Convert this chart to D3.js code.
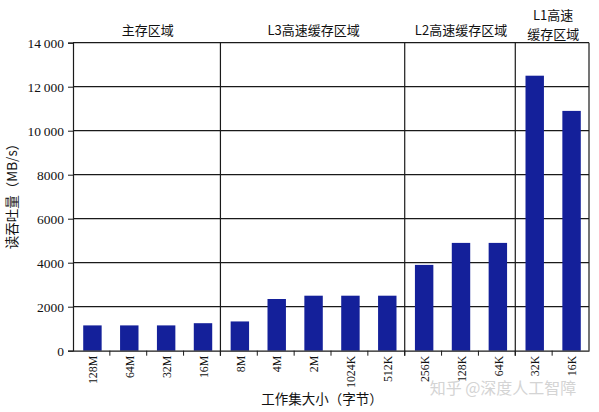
<!DOCTYPE html>
<html><head><meta charset="utf-8">
<script src="https://cdn.jsdelivr.net/npm/d3@7"></script>
<style>
html,body{margin:0;padding:0;background:#fff;}
svg{display:block;}
</style></head>
<body><svg id="c" width="599" height="412"></svg>
<script>
const categories = ["128M","64M","32M","16M","8M","4M","2M","1024K","512K","256K","128K","64K","32K","16K"];
const throughput = [1150,1150,1150,1250,1330,2350,2500,2500,2500,3900,4900,4900,12500,10900];
const yTicks = [0,2000,4000,6000,8000,10000,12000,14000];
const regions = [
  {name:["主存区域"], from:0, to:3},
  {name:["L3高速缓存区域"], from:4, to:8},
  {name:["L2高速缓存区域"], from:9, to:11},
  {name:["L1高速","缓存区域"], from:12, to:13}
];
const yTitle = "读吞吐量（MB/s）";
const xTitle = "工作集大小（字节）";
const watermark = "知乎 @深度人工智障";

const SERIF = '"Liberation Serif", "Times New Roman", serif';
const CJK = '"Noto Sans CJK SC", sans-serif';

const svg = d3.select("#c");
const L = 73, R = 589, T = 42.7, B = 350.7;

const x = d3.scaleBand().domain(categories).range([L, R]).paddingInner(0.5).paddingOuter(0.25);
const y = d3.scaleLinear().domain([0, 14000]).range([B, T]);
const half = (x.step() - x.bandwidth()) / 2;
const boundary = i => i < categories.length ? x(categories[i]) - half : R;

// grid lines
svg.append("g").selectAll("line").data(yTicks.slice(1)).join("line")
  .attr("x1", L).attr("x2", R).attr("y1", d => y(d)).attr("y2", d => y(d))
  .attr("stroke", "#1a1a1a").attr("stroke-width", 1.2);

// right border
svg.append("line").attr("x1", R).attr("x2", R).attr("y1", T).attr("y2", B)
  .attr("stroke", "#1a1a1a").attr("stroke-width", 1.2);

// region dividers
svg.append("g").selectAll("line").data(regions.slice(1)).join("line")
  .attr("x1", d => boundary(d.from)).attr("x2", d => boundary(d.from))
  .attr("y1", T).attr("y2", B + 5)
  .attr("stroke", "#1a1a1a").attr("stroke-width", 1.2);

// bars
svg.append("g").selectAll("rect").data(categories).join("rect")
  .attr("x", d => x(d) + 1).attr("width", x.bandwidth())
  .attr("y", (d, i) => y(throughput[i])).attr("height", (d, i) => B - y(throughput[i]))
  .attr("fill", "#14209a");

// y axis
const yAxis = svg.append("g").attr("transform", `translate(${L},0)`)
  .call(d3.axisLeft(y).tickValues(yTicks).tickSize(5).tickPadding(4)
    .tickFormat(d => d >= 10000 ? d3.format(",")(d).replace(",", "\u2009") : String(d)));
yAxis.attr("font-family", null).attr("font-size", null);
yAxis.select(".domain").attr("stroke", "#1a1a1a").attr("stroke-width", 1.2);
yAxis.selectAll(".tick line").attr("stroke", "#1a1a1a");
yAxis.selectAll("text").style("font-family", SERIF).style("font-size", "13.5px").attr("fill", "#111");

// x axis
const xAxis = svg.append("g").attr("transform", `translate(0,${B})`)
  .call(d3.axisBottom(x).tickSize(0).tickPadding(0));
xAxis.attr("font-family", null).attr("font-size", null);
xAxis.select(".domain").attr("stroke", "#1a1a1a").attr("stroke-width", 1.2);
xAxis.selectAll("text")
  .style("font-family", SERIF).style("font-size", "13.5px").attr("fill", "#111")
  .attr("transform", "translate(1,5) rotate(-90) scale(0.88,1)")
  .attr("dy", "0.35em").attr("x", 0).attr("y", 0)
  .attr("text-anchor", "end");
svg.append("g").selectAll("line").data(d3.range(1, categories.length)).join("line")
  .attr("x1", i => boundary(i)).attr("x2", i => boundary(i))
  .attr("y1", B).attr("y2", B + 5).attr("stroke", "#1a1a1a");

// region titles
regions.forEach(r => {
  const cx = (boundary(r.from) + boundary(r.to + 1)) / 2;
  const lines = r.name;
  lines.forEach((t, k) => {
    svg.append("text").attr("x", cx + 1)
      .attr("y", lines.length === 1 ? 35 : 20 + k * 18.5)
      .attr("text-anchor", "middle").style("font-family", CJK)
      .style("font-size", "13px").attr("fill", "#111").text(t);
  });
});

// axis titles
svg.append("text").attr("transform", "translate(17,193) rotate(-90)")
  .attr("text-anchor", "middle").style("font-family", CJK).style("font-size", "13.5px")
  .attr("fill", "#111").text(yTitle);
svg.append("text").attr("x", 322).attr("y", 404)
  .attr("text-anchor", "middle").style("font-family", CJK).style("font-size", "13.5px")
  .attr("fill", "#111").text(xTitle);

// watermark
svg.append("text").attr("x", 503).attr("y", 394)
  .attr("text-anchor", "middle").style("font-family", CJK).style("font-size", "16px")
  .attr("fill", "#d4d4d4").text(watermark);
</script></body></html>
